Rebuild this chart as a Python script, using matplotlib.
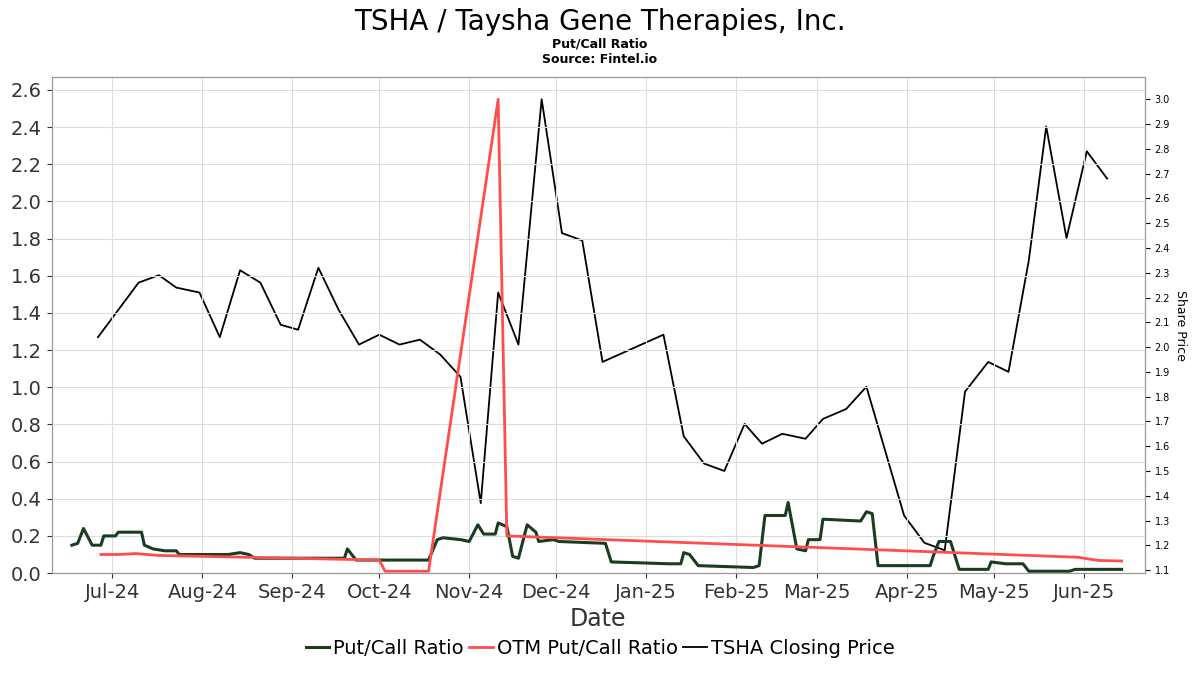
import matplotlib
matplotlib.use("Agg")
import matplotlib.pyplot as plt
import matplotlib.dates as mdates
import numpy as np
import pandas as pd

base = pd.Timestamp("2024-07-01")
# days since 2024-07-01
pc_days = [-14,-12,-10,-7,-4,-3,1,2,10,11,14,18,22,23,40,44,47,49,61,64,80,81,84,109,112,114,120,123,126,128,132,133,136,138,140,143,146,147,152,154,170,172,192,196,197,199,202,221,223,225,232,233,236,239,240,244,245,258,260,262,264,282,283,285,289,292,302,303,308,314,316,330,332,348]
pc_vals = [0.15,0.16,0.24,0.15,0.15,0.2,0.2,0.22,0.22,0.15,0.13,0.12,0.12,0.1,0.1,0.11,0.1,0.08,0.08,0.08,0.08,0.13,0.07,0.07,0.18,0.19,0.18,0.17,0.26,0.21,0.21,0.27,0.25,0.09,0.08,0.26,0.22,0.17,0.18,0.17,0.16,0.06,0.05,0.05,0.11,0.1,0.04,0.03,0.04,0.31,0.31,0.38,0.13,0.12,0.18,0.18,0.29,0.28,0.33,0.32,0.04,0.04,0.09,0.17,0.17,0.02,0.02,0.06,0.05,0.05,0.01,0.01,0.02,0.02]
otm_days = [-4,2,8,16,92,94,109,133,136,333,337,340,348]
otm_vals = [0.1,0.1,0.105,0.095,0.07,0.01,0.01,2.55,0.2,0.085,0.075,0.068,0.065]
px_days = [-5,9,16,22,30,37,44,51,58,64,71,78,85,92,99,106,113,120,127,133,140,148,155,162,169,190,197,204,211,218,224,231,239,245,253,260,273,280,287,294,302,309,316,322,329,336,343]
px_vals = [2.04,2.26,2.29,2.24,2.22,2.04,2.31,2.26,2.09,2.07,2.32,2.15,2.01,2.05,2.01,2.03,1.97,1.88,1.37,2.22,2.01,3.00,2.46,2.43,1.94,2.05,1.64,1.53,1.50,1.69,1.61,1.65,1.63,1.71,1.75,1.84,1.32,1.21,1.18,1.82,1.94,1.90,2.35,2.89,2.44,2.79,2.68]

def d(days):
    return [base + pd.Timedelta(days=x) for x in days]

fig = plt.figure(figsize=(12, 6.75), dpi=100)
ax = fig.add_axes([0.043, 0.151, 0.911, 0.735])
ax2 = ax.twinx()
ax.set_zorder(ax2.get_zorder() + 1)
ax.patch.set_visible(False)

l1, = ax.plot(d(pc_days), pc_vals, color="#1a3d1f", lw=2.2, label="Put/Call Ratio")
l2, = ax.plot(d(otm_days), otm_vals, color="#ff4d4d", lw=2, label="OTM Put/Call Ratio")
l3, = ax2.plot(d(px_days), px_vals, color="black", lw=1.3, label="TSHA Closing Price")

ax.set_xlim(pd.Timestamp("2024-06-10"), pd.Timestamp("2025-06-22"))
ax.set_ylim(0, 2.67)
ax.set_yticks(np.arange(0, 2.61, 0.2))
ax.yaxis.set_major_formatter(matplotlib.ticker.FormatStrFormatter("%.1f"))
ax2.set_ylim(1.088, 3.09)
ax2.set_yticks(np.arange(1.1, 3.01, 0.1))
ax2.yaxis.set_major_formatter(matplotlib.ticker.FormatStrFormatter("%.1f"))
ax2.tick_params(labelsize=7)
ax2.set_ylabel("Share Price", rotation=270, labelpad=12, fontsize=9)
ax.xaxis.set_major_locator(mdates.MonthLocator())
ax.xaxis.set_major_formatter(mdates.DateFormatter("%b-%y"))
ax.tick_params(axis="both", labelsize=14, colors="#333333")
ax.grid(True, color="#dddddd", lw=0.8)
ax.set_xlabel("Date", fontsize=17, color="#333333")
for a in (ax, ax2):
    for s in a.spines.values():
        s.set_color("#999999")

fig.text(0.5, 0.955, "TSHA / Taysha Gene Therapies, Inc.", ha="center", fontsize=20)
fig.text(0.5, 0.929, "Put/Call Ratio", ha="center", fontsize=9, fontweight="bold")
fig.text(0.5, 0.907, "Source: Fintel.io", ha="center", fontsize=9, fontweight="bold")
fig.legend(handles=[l1, l2, l3], loc="lower center", bbox_to_anchor=(0.5, 0.0), ncol=3,
           frameon=False, fontsize=14, handlelength=1.2, columnspacing=0.3, handletextpad=0.2)
fig.savefig("out.png")
